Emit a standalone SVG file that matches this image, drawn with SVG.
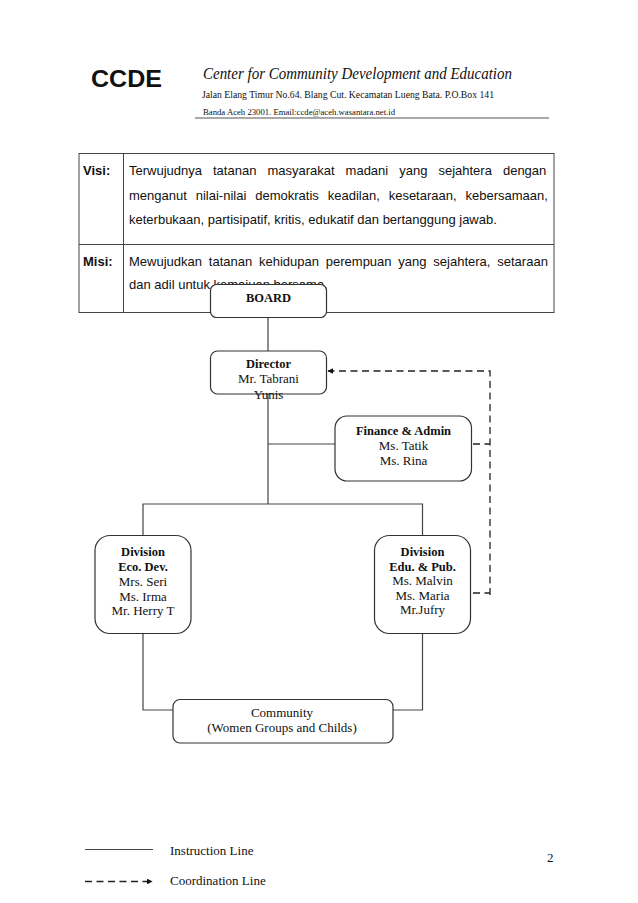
<svg xmlns="http://www.w3.org/2000/svg" width="638" height="903" viewBox="0 0 638 903">
<style>
.serif{font-family:"Liberation Serif","Times New Roman",serif;fill:#111}
.sans{font-family:"Liberation Sans",Arial,sans-serif;fill:#111}
.node rect{fill:#fff;stroke:#333;stroke-width:1.2}
.node text{font-family:"Liberation Serif","Times New Roman",serif;font-size:13px;fill:#111;text-anchor:middle}
.node text.b{font-weight:bold;font-size:12.5px}
.solid{fill:none;stroke:#444;stroke-width:1.2}
.dash{fill:none;stroke:#222;stroke-width:1.3;stroke-dasharray:7 4.5}
.tbl{fill:none;stroke:#444;stroke-width:1}
.tx{font-family:"Liberation Sans",Arial,sans-serif;font-size:13px;fill:#111}
</style>
<defs>
<marker id="ah" viewBox="0 0 10 10" refX="9" refY="5" markerWidth="6" markerHeight="6" orient="auto" markerUnits="userSpaceOnUse">
<path d="M0,0 L10,5 L0,10 z" fill="#111"/>
</marker>
</defs>
<rect width="638" height="903" fill="#fff"/>

<g id="header">
<text class="sans" x="91" y="87" font-size="24" font-weight="bold" textLength="71" lengthAdjust="spacingAndGlyphs">CCDE</text>
<text class="serif" x="203" y="79" font-size="16" font-style="italic" textLength="309" lengthAdjust="spacingAndGlyphs">Center for Community Development and Education</text>
<text class="serif" x="202" y="98" font-size="10" textLength="292" lengthAdjust="spacingAndGlyphs">Jalan Elang Timur No.64. Blang Cut. Kecamatan  Lueng Bata. P.O.Box 141</text>
<text class="serif" x="203" y="115" font-size="8.5" textLength="192" lengthAdjust="spacingAndGlyphs">Banda Aceh 23001. Email:ccde@aceh.wasantara.net.id</text>
<line x1="195" y1="118" x2="549" y2="118" stroke="#555" stroke-width="1.2"/>
</g>

<g id="table">
<rect class="tbl" x="79" y="153.5" width="475" height="159"/>
<line class="tbl" x1="123.5" y1="153.5" x2="123.5" y2="312.5"/>
<line class="tbl" x1="79" y1="244.5" x2="554" y2="244.5"/>
<text class="tx" x="83" y="175" font-weight="bold">Visi:</text>
<text class="tx" x="129" y="175" word-spacing="7.4">Terwujudnya tatanan masyarakat madani yang sejahtera dengan</text>
<text class="tx" x="129" y="200" word-spacing="5.3">menganut nilai-nilai demokratis keadilan, kesetaraan, kebersamaan,</text>
<text class="tx" x="129" y="224">keterbukaan, partisipatif, kritis, edukatif dan bertanggung jawab.</text>
<text class="tx" x="83" y="266" font-weight="bold">Misi:</text>
<text class="tx" x="129" y="266" word-spacing="3.2">Mewujudkan tatanan kehidupan perempuan yang sejahtera, setaraan</text>
<text class="tx" x="129" y="289">dan adil untuk kemajuan bersama.</text>
</g>

<g id="connectors">
<path class="solid" d="M268,317 V351"/>
<path class="solid" d="M268,394 V504"/>
<path class="solid" d="M268,444 H335"/>
<path class="solid" d="M143,536 V504 H422.5 V536"/>
<path class="solid" d="M143,633 V710 H173"/>
<path class="solid" d="M422.5,633 V710 H393"/>
<path class="dash" d="M490,595 V371 H328" marker-end="url(#ah)"/>
<path class="dash" d="M473,444 H490"/>
<path class="dash" d="M473,593 H490"/>
</g>

<g id="board" class="node">
<rect x="210.5" y="284.5" width="116" height="33" rx="6"/>
<text x="268.5" y="302" class="b">BOARD</text>
</g>

<g id="director" class="node">
<rect x="210.5" y="351" width="116" height="43" rx="7"/>
<text x="268.5" y="367.5" class="b">Director</text>
<text x="268.5" y="383">Mr. Tabrani</text>
<text x="268.5" y="398.5">Yunis</text>
</g>

<g id="finance" class="node">
<rect x="335" y="416" width="136.5" height="65" rx="12"/>
<text x="403.5" y="435" class="b">Finance &amp; Admin</text>
<text x="403.5" y="449.5">Ms. Tatik</text>
<text x="403.5" y="464.5">Ms. Rina</text>
</g>

<g id="eco" class="node">
<rect x="95" y="535.5" width="96" height="98" rx="15"/>
<text x="143" y="556" class="b">Division</text>
<text x="143" y="571" class="b">Eco. Dev.</text>
<text x="143" y="585.5">Mrs. Seri</text>
<text x="143" y="600.5">Ms. Irma</text>
<text x="143" y="615">Mr. Herry T</text>
</g>

<g id="edu" class="node">
<rect x="374.5" y="535.5" width="96" height="98" rx="15"/>
<text x="422.5" y="556" class="b">Division</text>
<text x="422.5" y="570.5" class="b">Edu. &amp; Pub.</text>
<text x="422.5" y="585">Ms. Malvin</text>
<text x="422.5" y="600">Ms. Maria</text>
<text x="422.5" y="614">Mr.Jufry</text>
</g>

<g id="community" class="node">
<rect x="173" y="699.5" width="220" height="43.5" rx="7"/>
<text x="282" y="717">Community</text>
<text x="282" y="732">(Women Groups and Childs)</text>
</g>

<g id="legend">
<line class="solid" x1="85" y1="849.5" x2="153" y2="849.5"/>
<text class="serif" x="170" y="855" font-size="13">Instruction Line</text>
<path class="dash" d="M85,881.5 H152" marker-end="url(#ah)"/>
<text class="serif" x="170" y="885" font-size="13">Coordination Line</text>
<text class="serif" x="547" y="861.5" font-size="13">2</text>
</g>
</svg>
